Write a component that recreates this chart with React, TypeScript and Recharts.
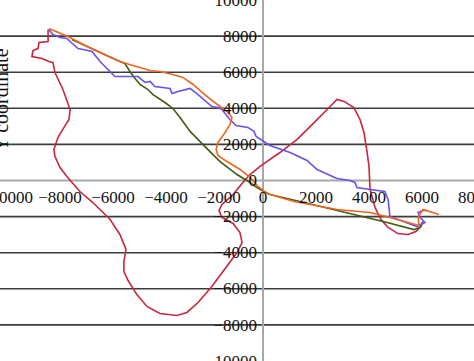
import React from 'react';
import { LineChart, Line, XAxis, YAxis, ReferenceLine } from 'recharts';

// axis values
const xTicks = [-10000, -8000, -6000, -4000, -2000, 0, 2000, 4000, 6000, 8000];
const yTicks = [-10000, -8000, -6000, -4000, -2000, 0, 2000, 4000, 6000, 8000, 10000];
const gridValues = [-8000, -6000, -4000, -2000, 2000, 4000, 6000, 8000];
const yTitle = 'Y coordinate';

// traced trajectories, [x, y]
const redPath: [number, number][] = [
  [-8110, 8370], [-8110, 7700], [-8450, 7650], [-8490, 7310], [-8680, 7200], [-8720, 6870],
  [-8340, 6760], [-8080, 6590], [-7930, 6540], [-7850, 5980], [-7550, 5040], [-7280, 3930],
  [-7320, 3380], [-7510, 2940], [-7740, 2380], [-7890, 1720], [-7850, 1330], [-7660, 720],
  [-7400, 220], [-6910, -610], [-6420, -1220], [-5770, -2160], [-5400, -2990], [-5170, -3820],
  [-5250, -4490], [-5250, -5040], [-5090, -5540], [-4760, -6320], [-4380, -6980], [-3890, -7370],
  [-3250, -7480], [-2870, -7310], [-2450, -6760], [-1930, -5870], [-1400, -4820], [-980, -3990],
  [-790, -3440], [-870, -2880], [-1130, -2380], [-1550, -2050], [-1660, -1660], [-1550, -1330],
  [-1130, -780], [-760, -110], [-490, 330], [-110, 780], [640, 1550], [1280, 2270],
  [1930, 3210], [2530, 4100], [2790, 4490], [3060, 4380], [3430, 4040], [3660, 3380],
  [3810, 2660], [3930, 1550], [4000, 780], [4040, -500], [4230, -1500], [4450, -2160],
  [4720, -2600], [5090, -2940], [5470, -2990], [5770, -2830], [5960, -2550], [6040, -2270],
];

const greenPath: [number, number][] = [
  [-7210, 7810], [-5400, 6590], [-5210, 6480], [-5020, 6040], [-4830, 5650], [-4640, 5320],
  [-4340, 5040], [-4150, 4760], [-3700, 4320], [-3400, 3990], [-3130, 3490], [-2750, 2720],
  [-2190, 1880], [-1620, 1050], [-980, 330], [-490, -110], [-230, -390], [40, -610],
  [260, -780], [1550, -1220], [3430, -1880], [4680, -2330], [5700, -2720], [5930, -2600],
  [6000, -2330],
];

const bluePath: [number, number][] = [
  [-8080, 8370], [-7930, 8090], [-7660, 7920], [-7400, 7870], [-7280, 7700], [-6980, 7310],
  [-6790, 7260], [-6450, 7150], [-6150, 6590], [-5590, 5760], [-4720, 5760], [-4450, 5430],
  [-4260, 5490], [-4080, 5210], [-3510, 5100], [-3430, 4820], [-3210, 4930], [-2750, 5100],
  [-2450, 4760], [-1930, 4100], [-1700, 4040], [-1550, 3930], [-1250, 3380], [-1020, 3050],
  [-570, 2940], [-340, 2720], [-260, 2440], [260, 1940], [1020, 1550], [1660, 1110],
  [2040, 610], [2790, 110], [3280, 0], [3470, -110], [3550, -390], [4040, -500],
  [4600, -610], [4720, -1050], [4790, -1990], [5810, -2550], [6110, -2330], [5930, -2050],
  [5850, -1770], [6040, -1660], [6230, -1660],
];

const orangePath: [number, number][] = [
  [-8080, 8420], [-7280, 7920], [-6640, 7420], [-6150, 7090], [-5400, 6590], [-4910, 6370],
  [-4260, 6090], [-3890, 6040], [-3400, 5870], [-3020, 5710], [-2640, 5320], [-2110, 4650],
  [-1620, 4100], [-1320, 3770], [-1170, 3490], [-1250, 3100], [-1430, 2660], [-1700, 2110],
  [-1770, 1720], [-1700, 1390], [-1360, 1050], [-870, 610], [-490, 170], [-190, -330],
  [150, -720], [1170, -1160], [2790, -1610], [4040, -1770], [4790, -2050], [5890, -2490],
  [5850, -2050], [6040, -1610], [6640, -1880],
];

const M = 30;
const AXIS = 1; // axes need a non-zero size to render their ticks
const PLOT_W = 477;
const PLOT_H = 361;
const X_DOMAIN: [number, number] = [-10000, 8000];
const Y_DOMAIN: [number, number] = [-10000, 10000];
const ZERO_X = M + ((0 - X_DOMAIN[0]) / (X_DOMAIN[1] - X_DOMAIN[0])) * PLOT_W;
const ZERO_Y = M + ((Y_DOMAIN[1] - 0) / (Y_DOMAIN[1] - Y_DOMAIN[0])) * PLOT_H;
const FONT = '"Liberation Serif", "DejaVu Serif", serif';

const toPoints = (path: [number, number][]) => path.map(([x, y]) => ({ x, y }));
const fmt = (v: number) => (v < 0 ? `\u2212${Math.abs(v)}` : `${v}`);

const XTick = ({ x, payload }: any) => (
  <text
    x={x + (payload.value < 0 ? 9 : 0)}
    y={ZERO_Y + 22}
    textAnchor="middle"
    fontFamily={FONT}
    fontSize={17}
    fill="#111"
  >
    {fmt(payload.value)}
  </text>
);

const YTick = ({ y, payload }: any) => (
  <text x={ZERO_X - 6} y={y} dy="0.33em" textAnchor="end" fontFamily={FONT} fontSize={17} fill="#111">
    {fmt(payload.value)}
  </text>
);

const TitleLabel = () => (
  <text
    x={39.5}
    y={130}
    transform="rotate(-90, 39.5, 130)"
    textAnchor="middle"
    fontFamily={FONT}
    fontSize={20}
    fill="#111"
  >
    {yTitle}
  </text>
);

export default function App() {
  return (
    <div style={{ position: 'absolute', left: 0, top: 0, width: 474, height: 361, overflow: 'hidden', background: '#fff' }}>
      <div style={{ position: 'absolute', left: -2 - M, top: -M }}>
        <LineChart
          width={PLOT_W + 2 * M}
          height={PLOT_H + 2 * M}
          margin={{ top: M, right: M, bottom: M - AXIS, left: M - AXIS }}
        >
          <XAxis
            dataKey="x"
            type="number"
            domain={X_DOMAIN}
            allowDataOverflow
            ticks={xTicks}
            interval={0}
            height={AXIS}
            axisLine={false}
            tickLine={false}
            tick={<XTick />}
          />
          <YAxis
            type="number"
            domain={Y_DOMAIN}
            allowDataOverflow
            ticks={yTicks}
            interval={0}
            width={AXIS}
            axisLine={false}
            tickLine={false}
            tick={<YTick />}
            label={<TitleLabel />}
          />
          {gridValues.map((v) => (
            <ReferenceLine key={v} y={v} stroke="#3c3c3c" strokeWidth={1.6} />
          ))}
          <ReferenceLine y={0} stroke="#a8a8a8" strokeWidth={2} />
          <ReferenceLine x={0} stroke="#a8a8a8" strokeWidth={2} />
          <Line data={toPoints(redPath)} dataKey="y" type="linear" stroke="#c8263e" strokeWidth={1.6} dot={false} activeDot={false} isAnimationActive={false} />
          <Line data={toPoints(greenPath)} dataKey="y" type="linear" stroke="#3f5c10" strokeWidth={1.6} dot={false} activeDot={false} isAnimationActive={false} />
          <Line data={toPoints(bluePath)} dataKey="y" type="linear" stroke="#6652ee" strokeWidth={1.6} dot={false} activeDot={false} isAnimationActive={false} />
          <Line data={toPoints(orangePath)} dataKey="y" type="linear" stroke="#f06422" strokeWidth={1.6} dot={false} activeDot={false} isAnimationActive={false} />
        </LineChart>
      </div>
    </div>
  );
}
